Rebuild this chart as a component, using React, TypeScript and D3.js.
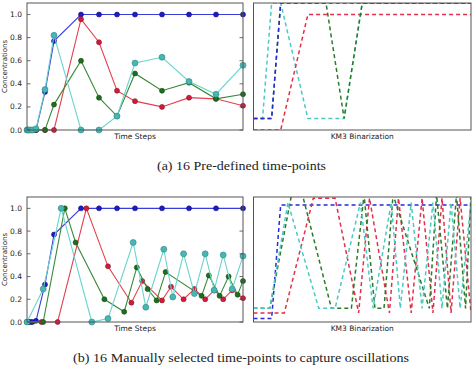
import React from "react";
import * as d3 from "d3";

// --- (a) pre-defined time points, shared by all four series ---
const TIMES_A = [0, 0.5, 1, 2, 3, 5, 10, 15, 30, 40, 50, 60, 75, 90, 105, 120];
const A_BLUE = [0, 0, 0, 0, 0, 0, 0.33, 0.77, 1, 1, 1, 1, 1, 1, 1, 1];
const A_RED = [0, 0, 0, 0, 0, 0, 0, 0, 0.96, 0.76, 0.34, 0.25, 0.2, 0.28, 0.27, 0.21];
const A_GREEN = [0, 0, 0, 0, 0, 0, 0, 0.22, 0.6, 0.28, 0.12, 0.49, 0.34, 0.41, 0.27, 0.31];
const A_CYAN = [0, 0, 0, 0, 0, 0.01, 0.35, 0.82, 0, 0, 0.12, 0.58, 0.63, 0.42, 0.31, 0.56];

// KM3 binarized states (a)
const A_BIN_BLUE = [0, 0, 0, 0, 0, 0, 0, 1, 1, 1, 1, 1, 1, 1, 1, 1];
const A_BIN_RED = [0, 0, 0, 0, 0, 0, 0, 0, 1, 1, 1, 1, 1, 1, 1, 1];
const A_BIN_GREEN = [0, 0, 0, 0, 0, 0, 0, 1, 1, 1, 0, 1, 1, 1, 1, 1];
const A_BIN_CYAN = [0, 0, 0, 0, 0, 0, 1, 1, 0, 0, 0, 1, 1, 1, 1, 1];

// --- (b) manually selected time points, one set per series ---
const B_T_BLUE = [0, 0.5, 1, 2, 3, 5, 10, 15, 30, 40, 50, 60, 75, 90, 105, 120];
const B_BLUE = [0, 0, 0, 0, 0, 0.01, 0.33, 0.77, 1, 1, 1, 1, 1, 1, 1, 1];
const B_T_RED = [0, 8, 17, 33, 45, 58, 64, 75, 80, 87, 93, 99, 104, 109, 114, 120];
const B_RED = [0, 0, 0, 1, 0.49, 0.17, 0.36, 0.19, 0.31, 0.2, 0.29, 0.2, 0.28, 0.2, 0.28, 0.21];
const B_T_GREEN = [0, 9, 21, 27, 43, 54, 61, 67, 72, 77, 97, 101, 107, 112, 117, 120];
const B_GREEN = [0, 0, 1, 0.7, 0.2, 0.09, 0.48, 0.29, 0.19, 0.44, 0.23, 0.41, 0.23, 0.4, 0.24, 0.36];
const B_T_CYAN = [0, 9, 19, 36, 45, 59, 66, 76, 81, 87, 93, 99, 104, 109, 114, 120];
const B_CYAN = [0, 0.29, 1, 0, 0.03, 0.7, 0.13, 0.64, 0.22, 0.6, 0.25, 0.6, 0.28, 0.59, 0.29, 0.58];

const B_BIN_BLUE = [0, 0, 0, 0, 0, 0, 0, 1, 1, 1, 1, 1, 1, 1, 1, 1];
const B_BIN_RED = [0, 0, 0, 1, 1, 0, 1, 0, 1, 0, 1, 0, 1, 0, 1, 0];
const B_BIN_GREEN = [0, 0, 1, 1, 0, 0, 1, 0, 0, 1, 0, 1, 0, 1, 0, 1];
const B_BIN_CYAN = [0, 0, 1, 0, 0, 1, 0, 1, 0, 1, 0, 1, 0, 1, 0, 1];

const Y_TICKS = [0, 0.2, 0.4, 0.6, 0.8, 1.0];

const COLORS = {
  blue: { line: "#3c3cd8", fill: "#1c1cc4", edge: "#12128c", dash: "#2828dc" },
  red: { line: "#e2404e", fill: "#d01c3c", edge: "#8c1020", dash: "#e0304c" },
  green: { line: "#3a8a3a", fill: "#1e6e1e", edge: "#0f4a0f", dash: "#2a7a2a" },
  cyan: { line: "#6ad4cc", fill: "#48b6b2", edge: "#2a8a88", dash: "#4ccac0" },
};

type Key = keyof typeof COLORS;
interface Series { key: Key; t: number[]; v: number[]; }
interface BinSeries { key: Key; t: number[]; s: number[]; low: number; high: number; }

const LEFT = { x0: 27, x1: 243 };
const RIGHT = { x0: 253.5, x1: 471 };
const FONT = "'DejaVu Sans', sans-serif";

function LinePanel({ y0, y1, series }: { y0: number; y1: number; series: Series[] }) {
  const x = d3.scaleLinear().domain([0, 120]).range([LEFT.x0, LEFT.x1]);
  const y = d3.scaleLinear().domain([0, 1.1]).range([y1, y0]);
  const line = d3.line<[number, number]>().x((d) => x(d[0])).y((d) => y(d[1]));
  return (
    <g>
      <rect x={LEFT.x0} y={y0} width={LEFT.x1 - LEFT.x0} height={y1 - y0} fill="#fff" />
      {series.map((s) => {
        const pts = s.t.map((t, i) => [t, s.v[i]] as [number, number]);
        const c = COLORS[s.key];
        const r = s.key === "cyan" ? 3 : 2.5;
        return (
          <g key={s.key}>
            <path d={line(pts) ?? ""} fill="none" stroke={c.line} strokeWidth={1.1} />
            {pts.map((p, i) => (
              <circle key={i} cx={x(p[0])} cy={y(p[1])} r={r} fill={c.fill} stroke={c.edge} strokeWidth={0.6} />
            ))}
          </g>
        );
      })}
      {Y_TICKS.map((t) => (
        <g key={t}>
          <line x1={LEFT.x0} x2={LEFT.x0 + 3.5} y1={y(t)} y2={y(t)} stroke="#444" strokeWidth={0.8} />
          <line x1={LEFT.x1 - 3.5} x2={LEFT.x1} y1={y(t)} y2={y(t)} stroke="#444" strokeWidth={0.8} />
          <text x={LEFT.x0 - 5} y={y(t)} textAnchor="end" dominantBaseline="central" fontSize={7.5} fontFamily={FONT} fill="#222">
            {t.toFixed(1)}
          </text>
        </g>
      ))}
      <rect x={LEFT.x0} y={y0} width={LEFT.x1 - LEFT.x0} height={y1 - y0} fill="none" stroke="#555" strokeWidth={1} />
      <text x={5} y={(y0 + y1) / 2} transform={`rotate(-90 5 ${(y0 + y1) / 2})`} textAnchor="middle" dominantBaseline="central" fontSize={7} fontFamily={FONT} fill="#222">
        Concentrations
      </text>
      <text x={(LEFT.x0 + LEFT.x1) / 2} y={y1 + 6} textAnchor="middle" dominantBaseline="central" fontSize={7.5} fontFamily={FONT} fill="#222">
        Time Steps
      </text>
    </g>
  );
}

function BinPanel({ id, y0, y1, series }: { id: string; y0: number; y1: number; series: BinSeries[] }) {
  const x = d3.scaleLinear().domain([0, 120]).range([RIGHT.x0, RIGHT.x1]);
  const y = d3.scaleLinear().domain([0, 1.1]).range([y1, y0]);
  const line = d3.line<[number, number]>().x((d) => x(d[0])).y((d) => y(d[1]));
  return (
    <g>
      <defs>
        <clipPath id={id}>
          <rect x={RIGHT.x0} y={y0} width={RIGHT.x1 - RIGHT.x0} height={y1 - y0} />
        </clipPath>
      </defs>
      <rect x={RIGHT.x0} y={y0} width={RIGHT.x1 - RIGHT.x0} height={y1 - y0} fill="#fff" />
      <g clipPath={`url(#${id})`}>
        {series.map((s) => {
          const pts = s.t.map((t, i) => [t, s.s[i] ? s.high : s.low] as [number, number]);
          return (
            <path key={s.key} d={line(pts) ?? ""} fill="none" stroke={COLORS[s.key].dash} strokeWidth={1.5} strokeDasharray="4,3" />
          );
        })}
      </g>
      <rect x={RIGHT.x0} y={y0} width={RIGHT.x1 - RIGHT.x0} height={y1 - y0} fill="none" stroke="#555" strokeWidth={1} />
      <text x={(RIGHT.x0 + RIGHT.x1) / 2} y={y1 + 6} textAnchor="middle" dominantBaseline="central" fontSize={7.5} fontFamily={FONT} fill="#222">
        KM3 Binarization
      </text>
    </g>
  );
}

export default function App() {
  const seriesA: Series[] = [
    { key: "blue", t: TIMES_A, v: A_BLUE },
    { key: "red", t: TIMES_A, v: A_RED },
    { key: "green", t: TIMES_A, v: A_GREEN },
    { key: "cyan", t: TIMES_A, v: A_CYAN },
  ];
  const seriesB: Series[] = [
    { key: "blue", t: B_T_BLUE, v: B_BLUE },
    { key: "red", t: B_T_RED, v: B_RED },
    { key: "green", t: B_T_GREEN, v: B_GREEN },
    { key: "cyan", t: B_T_CYAN, v: B_CYAN },
  ];
  const binA: BinSeries[] = [
    { key: "cyan", t: TIMES_A, s: A_BIN_CYAN, low: 0.1, high: 1.1 },
    { key: "red", t: TIMES_A, s: A_BIN_RED, low: 0, high: 1.0 },
    { key: "green", t: TIMES_A, s: A_BIN_GREEN, low: 0.1, high: 1.1 },
    { key: "blue", t: TIMES_A, s: A_BIN_BLUE, low: 0.1, high: 1.1 },
  ];
  const binB: BinSeries[] = [
    { key: "blue", t: B_T_BLUE, s: B_BIN_BLUE, low: 0.03, high: 1.03 },
    { key: "red", t: B_T_RED, s: B_BIN_RED, low: 0.08, high: 1.09 },
    { key: "green", t: B_T_GREEN, s: B_BIN_GREEN, low: 0.12, high: 1.12 },
    { key: "cyan", t: B_T_CYAN, s: B_BIN_CYAN, low: 0.12, high: 1.05 },
  ];
  const serif = "'Liberation Serif', 'DejaVu Serif', serif";
  return (
    <svg width={474} height={367} style={{ position: "absolute", left: 0, top: 0, background: "#fff" }}>
      <LinePanel y0={3} y1={130} series={seriesA} />
      <BinPanel id="clipA" y0={3} y1={130} series={binA} />
      <text x={241.5} y={166} textAnchor="middle" dominantBaseline="central" fontSize={12.5} fontFamily={serif} fill="#222" textLength={169} lengthAdjust="spacingAndGlyphs">
        (a) 16 Pre-defined time-points
      </text>
      <LinePanel y0={197} y1={322} series={seriesB} />
      <BinPanel id="clipB" y0={197} y1={322} series={binB} />
      <text x={241} y={358} textAnchor="middle" dominantBaseline="central" fontSize={12.5} fontFamily={serif} fill="#222" textLength={336} lengthAdjust="spacingAndGlyphs">
        (b) 16 Manually selected time-points to capture oscillations
      </text>
    </svg>
  );
}
